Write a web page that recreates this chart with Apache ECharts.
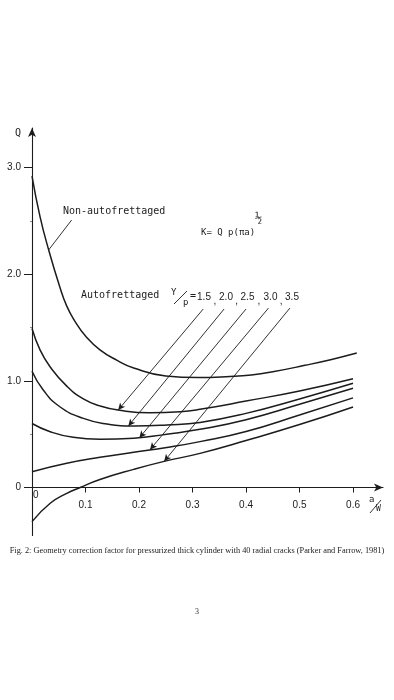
<!DOCTYPE html>
<html><head><meta charset="utf-8">
<script src="https://cdn.jsdelivr.net/npm/echarts@6/dist/echarts.min.js"></script>
<style>html,body{margin:0;padding:0;background:#fff}#c{width:394px;height:700px}</style>
</head><body><div id="c"></div>
<script>
// ---- data ----
const nonAutoX = [0, 0.015, 0.031, 0.052, 0.065, 0.08, 0.1, 0.127, 0.16, 0.19, 0.25, 0.31, 0.37, 0.41, 0.45, 0.51, 0.56, 0.607];
const nonAutoQ = [2.92, 2.54, 2.23, 1.88, 1.70, 1.56, 1.42, 1.29, 1.19, 1.12, 1.045, 1.03, 1.04, 1.055, 1.085, 1.145, 1.2, 1.26];

const yp15X = [0, 0.015, 0.034, 0.065, 0.096, 0.127, 0.161, 0.22, 0.277, 0.314, 0.4, 0.5, 0.6];
const yp15Q = [1.49, 1.29, 1.13, 0.95, 0.83, 0.765, 0.726, 0.70, 0.71, 0.733, 0.81, 0.905, 1.02];

const yp20X = [0, 0.021, 0.052, 0.096, 0.14, 0.19, 0.252, 0.314, 0.4, 0.5, 0.6];
const yp20Q = [1.09, 0.914, 0.757, 0.648, 0.595, 0.576, 0.586, 0.61, 0.695, 0.83, 0.977];

const yp25X = [0, 0.034, 0.077, 0.127, 0.19, 0.252, 0.314, 0.4, 0.5, 0.6];
const yp25Q = [0.60, 0.523, 0.47, 0.452, 0.461, 0.50, 0.545, 0.635, 0.78, 0.93];

const yp30X = [0, 0.065, 0.127, 0.19, 0.252, 0.314, 0.4, 0.5, 0.6];
const yp30Q = [0.148, 0.227, 0.283, 0.33, 0.375, 0.43, 0.525, 0.68, 0.84];

const yp35X = [0, 0.034, 0.065, 0.09, 0.127, 0.19, 0.247, 0.314, 0.4, 0.5, 0.6];
const yp35Q = [-0.32, -0.148, -0.055, 0, 0.075, 0.17, 0.245, 0.32, 0.44, 0.59, 0.755];

const xTickValues = [0.1, 0.2, 0.3, 0.4, 0.5, 0.6];
const yTickValues = [0, 1, 2, 3];
const yMinorTickValues = [0.5, 1.5, 2.5];
const ypLabels = ['1.5', '2.0', '2.5', '3.0', '3.5'];

// annotation leader lines (data coordinates)
const arrowStartX = [0.320, 0.359, 0.400, 0.442, 0.482];
const arrowStartQ = [1.673, 1.673, 1.673, 1.682, 1.682];
const arrowEndX   = [0.161, 0.180, 0.2006, 0.2206, 0.247];
const arrowEndQ   = [0.726, 0.576, 0.465, 0.355, 0.245];
const nonAutoLeaderX = [0.074, 0.031];
const nonAutoLeaderQ = [2.507, 2.226];

// ---- chart ----
const zip = (xs, ys) => xs.map((x, i) => [x, ys[i]]);
const INK = '#1c1c1c';
const MONO = 'DejaVu Sans Mono';
const NUM = 'Liberation Sans';

const curve = (name, xs, ys) => ({
  name, type: 'line', data: zip(xs, ys), smooth: 0.5, symbol: 'none',
  lineStyle: { color: INK, width: 1.5 }, silent: true, z: 3
});

const leaders = arrowStartX.map((x, i) => [
  { coord: [x, arrowStartQ[i]] },
  { coord: [arrowEndX[i], arrowEndQ[i]] }
]);
leaders.push([
  { coord: [nonAutoLeaderX[0], nonAutoLeaderQ[0]], symbol: 'none' },
  { coord: [nonAutoLeaderX[1], nonAutoLeaderQ[1]], symbol: 'none' }
]);

const series = [
  curve('Non-autofrettaged', nonAutoX, nonAutoQ),
  curve('Y/p=1.5', yp15X, yp15Q),
  curve('Y/p=2.0', yp20X, yp20Q),
  curve('Y/p=2.5', yp25X, yp25Q),
  curve('Y/p=3.0', yp30X, yp30Q),
  curve('Y/p=3.5', yp35X, yp35Q)
];
series[0].markLine = {
  silent: true, symbol: ['none', 'arrow'], symbolSize: [5, 7], animation: false,
  label: { show: false }, lineStyle: { color: INK, width: 0.9, type: 'solid' },
  data: leaders
};

const numPos = [204, 226, 247.5, 270.5, 292];
const graphics = [
  { type: 'text', left: 15, top: 128, style: { text: 'Q', font: '10px ' + MONO, fill: INK } },
  { type: 'text', left: 63, top: 206, style: { text: 'Non-autofrettaged', font: '10px ' + MONO, fill: INK } },
  { type: 'text', left: 81, top: 290, style: { text: 'Autofrettaged', font: '10px ' + MONO, fill: INK } },
  { type: 'text', left: 171, top: 288, style: { text: 'Y', font: '9px ' + MONO, fill: INK } },
  { type: 'line', shape: { x1: 174, y1: 304, x2: 187, y2: 291 }, style: { stroke: INK, lineWidth: 0.9 } },
  { type: 'text', left: 183, top: 298, style: { text: 'p', font: '9px ' + MONO, fill: INK } },
  { type: 'text', left: 190, top: 291, style: { text: '=', font: '10px ' + MONO, fill: INK } },
  { type: 'text', left: 201, top: 228, style: { text: 'K= Q p(\u03c0a)', font: '9px ' + MONO, fill: INK } },
  { type: 'text', left: 255, top: 213, style: { text: '\u00bd', font: '12px ' + MONO, fill: INK } },
  { type: 'text', left: 33, top: 490, style: { text: '0', font: '10px ' + NUM, fill: INK } },
  { type: 'text', left: 369, top: 495, style: { text: 'a', font: '9px ' + MONO, fill: INK } },
  { type: 'line', shape: { x1: 370, y1: 513, x2: 381, y2: 500 }, style: { stroke: INK, lineWidth: 0.9 } },
  { type: 'text', left: 376, top: 505, style: { text: 'W', font: '8px ' + MONO, fill: INK } },
  { type: 'text', left: 'center', top: 547, style: { text: 'Fig. 2: Geometry correction factor for pressurized thick cylinder with 40 radial cracks (Parker and Farrow, 1981)', font: '8.3px "Liberation Serif"', fill: '#222' } },
  { type: 'text', left: 195, top: 608, style: { text: '3', font: '8px "Liberation Serif"', fill: '#333' } }
];
ypLabels.forEach((t, i) => {
  graphics.push({ type: 'text', x: numPos[i], y: 297, style: { text: t, font: '10px ' + NUM, fill: INK, align: 'center', verticalAlign: 'middle' } });
  if (i < ypLabels.length - 1) {
    graphics.push({ type: 'text', x: (numPos[i] + numPos[i + 1]) / 2, y: 301, style: { text: ',', font: '10px ' + NUM, fill: INK, align: 'center', verticalAlign: 'middle' } });
  }
});

const chart = echarts.init(document.getElementById('c'), null, { renderer: 'canvas' });
chart.setOption({
  animation: false,
  backgroundColor: '#fff',
  grid: { left: 32, right: 11, top: 128, bottom: 164.5, containLabel: false },
  xAxis: {
    type: 'value', min: 0, max: 0.656, position: 'bottom', offset: -48,
    axisLine: { show: true, onZero: false, symbol: ['none', 'arrow'], symbolSize: [6, 9], lineStyle: { color: INK, width: 1.1 } },
    axisTick: { show: true, customValues: xTickValues, length: 5, inside: false, lineStyle: { color: INK } },
    axisLabel: { customValues: xTickValues, formatter: v => v.toFixed(1), margin: 13, color: INK, fontFamily: NUM, fontSize: 10 },
    splitLine: { show: false }
  },
  yAxis: [{
    type: 'value', min: -0.45, max: 3.37,
    axisLine: { show: true, onZero: false, symbol: ['none', 'arrow'], symbolSize: [6, 9], lineStyle: { color: INK, width: 1.1 } },
    axisTick: { show: true, customValues: yTickValues, length: 8, lineStyle: { color: INK } },
    axisLabel: { customValues: yTickValues, formatter: v => v === 0 ? '0' : v.toFixed(1), margin: 11, color: INK, fontFamily: NUM, fontSize: 10 },
    splitLine: { show: false }
  }, {
    type: 'value', min: -0.45, max: 3.37, position: 'left',
    axisLine: { show: false },
    axisTick: { show: true, customValues: yMinorTickValues, length: 2, lineStyle: { color: '#888' } },
    axisLabel: { show: false },
    splitLine: { show: false }
  }],
  series,
  graphic: graphics
});
</script></body></html>
